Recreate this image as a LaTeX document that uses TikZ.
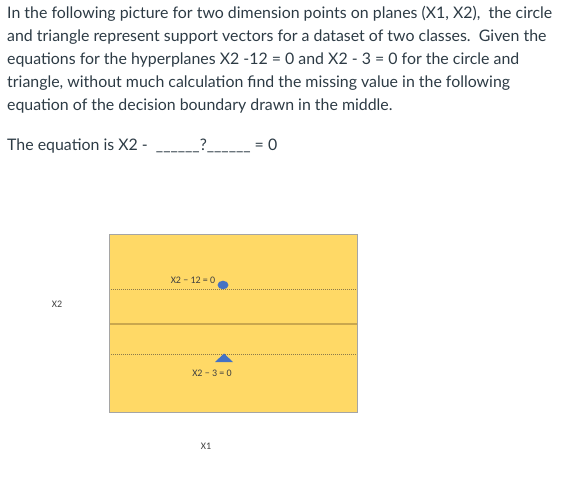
\documentclass[tikz,border=0pt]{standalone}
\usepackage{fontspec}
\setmainfont{Lato}
\newfontfamily\smallfont{Carlito}
\definecolor{txt}{HTML}{2D3B45}
\definecolor{plotfill}{HTML}{FFD966}
\definecolor{plotborder}{HTML}{A5A5A5}
\definecolor{midline}{HTML}{C9A74E}
\definecolor{dotline}{HTML}{8C7A4A}
\definecolor{marker}{HTML}{4472C4}
\definecolor{lbl}{HTML}{404040}
\tikzset{
  para/.style={anchor=base west, inner sep=0pt, text=txt, font=\fontsize{15.9}{18}\selectfont},
  small/.style={inner sep=0pt, text=lbl, font=\smallfont\fontsize{10}{12}\selectfont},
  hyper/.style={draw=dotline, line width=0.6pt, dash pattern=on 1.2pt off 0.8pt},
}
\begin{document}
\begin{tikzpicture}[x=1pt,y=-1pt]
\useasboundingbox (0,0) rectangle (569,480);
\node[para] (l1) at (7,18) {In the following picture for two dimension points on planes (X1, X2),\ \ the circle};
\node[para] (l2) at (7,41) {and triangle represent support vectors for a dataset of two classes.\ \ Given the};
\node[para] (l3) at (7,64) {equations for the hyperplanes X2 -12 = 0 and X2 - 3 = 0 for the circle and};
\node[para] (l4) at (7,87) {triangle, without much calculation find the missing value in the following};
\node[para] (l5) at (7,110) {equation of the decision boundary drawn in the middle.};
\node[para] (l6) at (7,150) {The equation is X2 -\ \ \_\_\_\_\_\_?\_\_\_\_\_\_ = 0};
% plot area
\fill[plotfill] (109,234) rectangle (357,412);
\coordinate (tl) at (109,289); \coordinate (tr) at (357,289);
\coordinate (ml) at (109,324); \coordinate (mr) at (357,324);
\coordinate (bl) at (109,354); \coordinate (br) at (357,354);
\draw[hyper] (tl) -- (tr);
\draw[hyper] (bl) -- (br);
\draw[midline, line width=1.3pt] (ml) -- (mr);
\draw[plotborder, line width=0.8pt] (109,234) rectangle (357,412);
\fill[marker] (223,285) ellipse [x radius=5.5, y radius=4.3];
\fill[marker] (215,362) -- (233,362) -- (224,353.5) -- cycle;
\node[small] (c1) at (193,280) {X2 − 12 = 0};
\node[small] (c2) at (212,373) {X2 − 3 = 0};
\node[small] (x1) at (206,446) {X1};
\node[small] (x2) at (57,304) {X2};
\end{tikzpicture}
\end{document}
